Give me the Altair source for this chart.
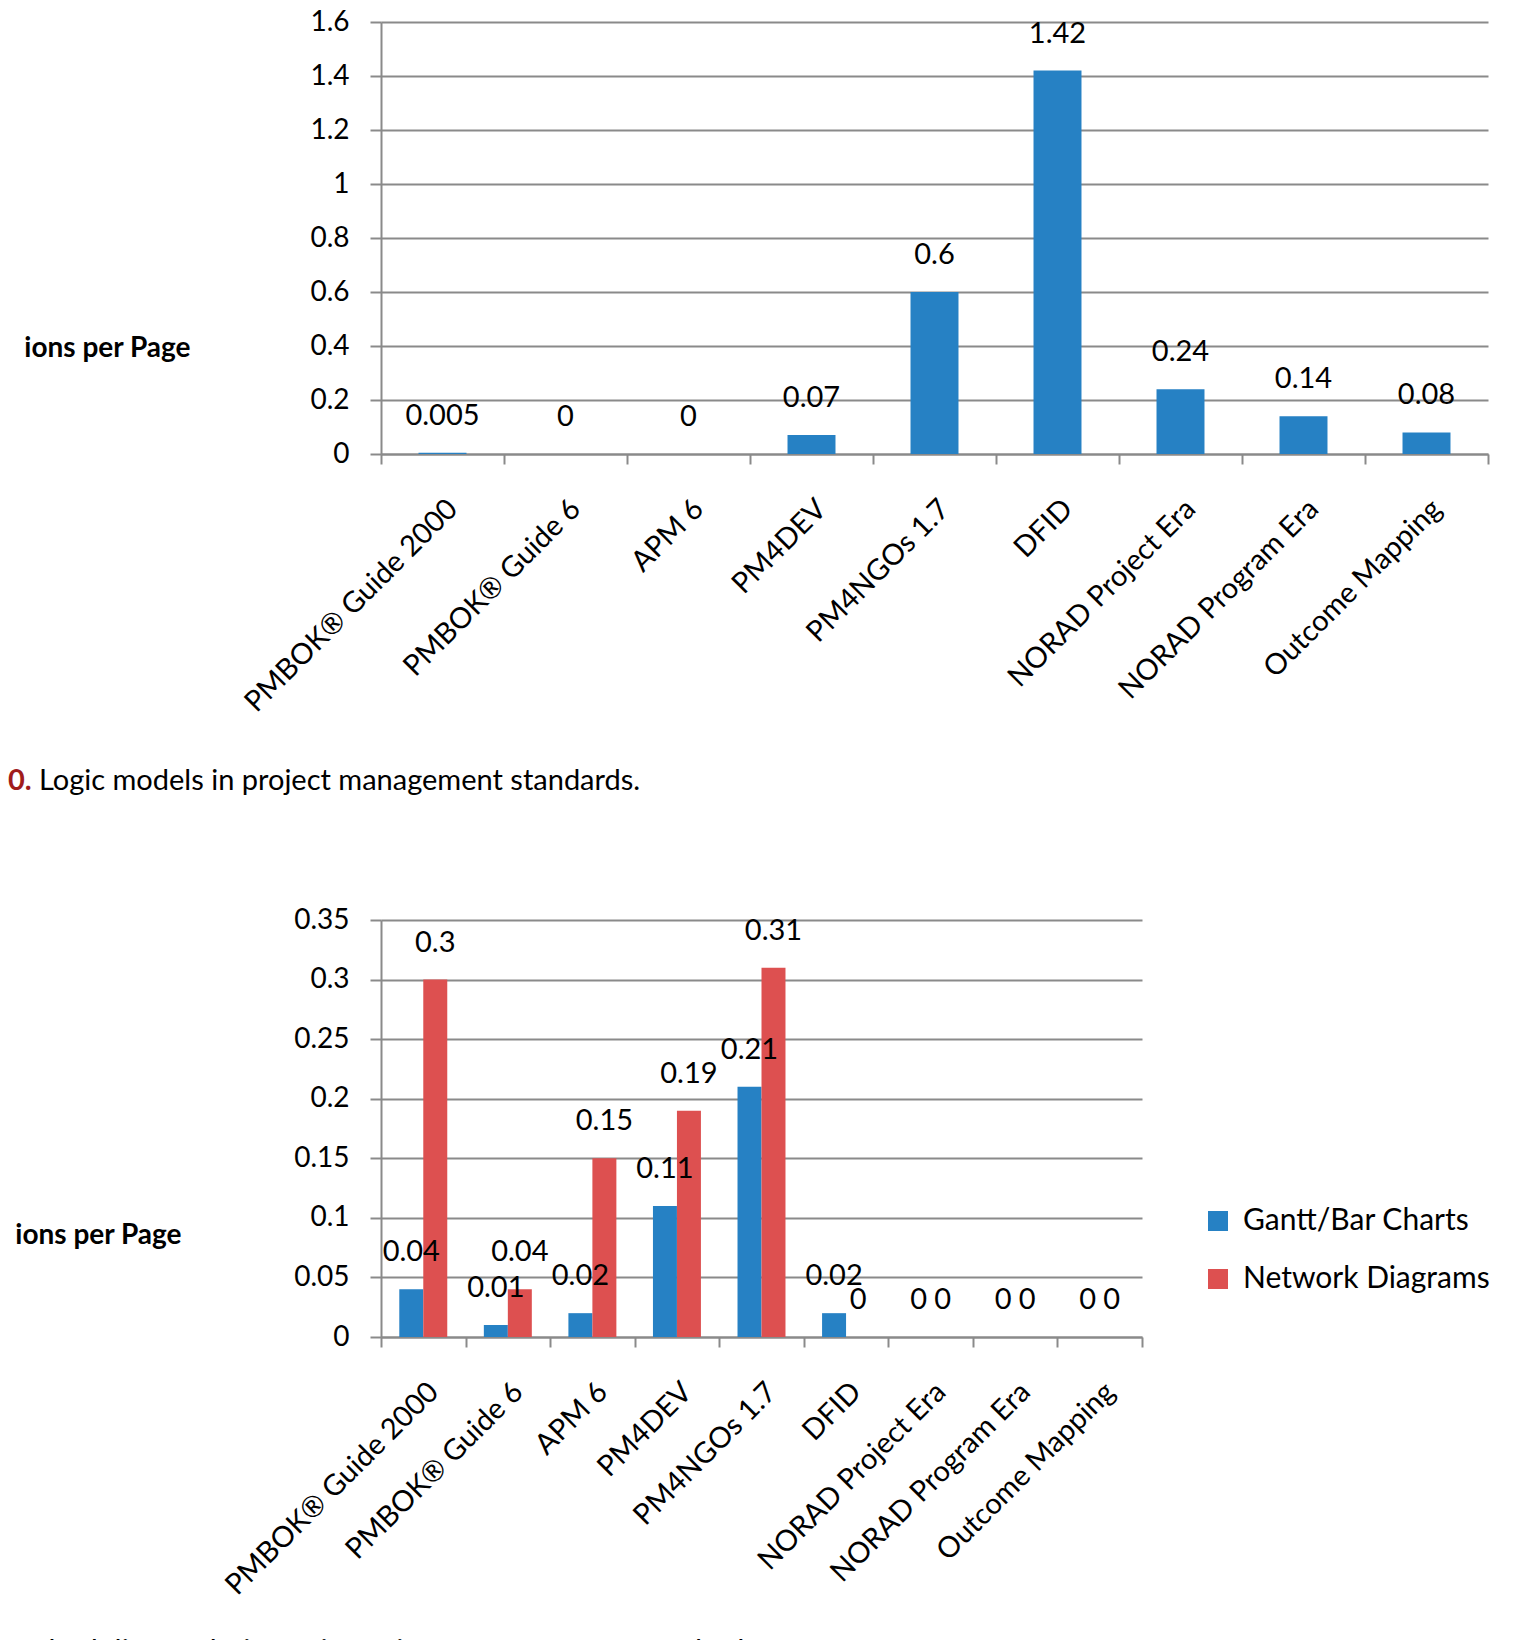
import altair as alt
import pandas as pd

categories = ["PMBOK® Guide 2000", "PMBOK® Guide 6", "APM 6", "PM4DEV", "PM4NGOs 1.7",
              "DFID", "NORAD Project Era", "NORAD Program Era", "Outcome Mapping"]
logic_values = [0.005, 0, 0, 0.07, 0.6, 1.42, 0.24, 0.14, 0.08]
gantt_values = [0.04, 0.01, 0.02, 0.11, 0.21, 0.02, 0, 0, 0]
network_values = [0.3, 0.04, 0.15, 0.19, 0.31, 0, 0, 0, 0]
series_names = ["Gantt/Bar Charts", "Network Diagrams"]
series_colors = ["#2681C4", "#DD5050"]
top_ticks = [0, 0.2, 0.4, 0.6, 0.8, 1, 1.2, 1.4, 1.6]
bottom_ticks = [0, 0.05, 0.1, 0.15, 0.2, 0.25, 0.3, 0.35]
y_title = "ions per Page"
caption_num = ["0."]
caption_top = ["Logic models in project management standards."]
caption_bottom = ["Scheduling techniques in project management standards."]

FONT = "Lato"
GRAY = "#8a8a8a"
BLUE = series_colors[0]
LABEL_SIZE = 29


def x_axis():
    return alt.Axis(title=None, labelAngle=-45, labelFont=FONT, labelFontSize=29,
                    labelColor="black", labelLimit=500, labelPadding=30,
                    tickBand="extent", tickSize=10, tickColor=GRAY, tickWidth=2,
                    domainColor=GRAY, domainWidth=2, grid=False)


def y_axis(vals, tx, ty):
    return alt.Axis(values=vals, format="~g", title=y_title, titleAngle=0,
                    titleAlign="right", titleBaseline="middle", titleX=tx, titleY=ty,
                    titleFont=FONT, titleFontSize=28, titleFontWeight="bold",
                    titleColor="black", labelFont=FONT, labelFontSize=28,
                    labelColor="black", labelPadding=21, tickSize=11, tickColor=GRAY,
                    tickWidth=2, domainColor=GRAY, domainWidth=2, gridColor=GRAY,
                    gridWidth=2)


# ---------- top chart ----------
df_top = pd.DataFrame({"cat": categories, "value": logic_values})
xs_top = alt.X("cat:N", sort=categories,
               scale=alt.Scale(paddingInner=0, paddingOuter=0), axis=x_axis())
ys_top = alt.Y("value:Q", scale=alt.Scale(domain=[0, 1.6], nice=False),
               axis=y_axis(top_ticks, -191, 326))

top_bars = alt.Chart(df_top).mark_bar(
    color=BLUE, width=alt.RelativeBandSize(0.39)).encode(x=xs_top, y=ys_top)
top_labels = alt.Chart(df_top).mark_text(font=FONT, fontSize=LABEL_SIZE, dy=-37,
                                         color="black").encode(
    x=alt.X("cat:N", sort=categories), y="value:Q",
    text=alt.Text("value:Q", format="~g"))
cap_num = alt.Chart(pd.DataFrame({"t": caption_num})).mark_text(
    font=FONT, fontSize=29, fontWeight="bold", color="#A01C1C", align="left",
    baseline="middle").encode(x=alt.value(-373), y=alt.value(759), text="t:N")
cap_top = alt.Chart(pd.DataFrame({"t": caption_top})).mark_text(
    font=FONT, fontSize=29, color="black", align="left",
    baseline="middle").encode(x=alt.value(-342), y=alt.value(759), text="t:N")

top = alt.layer(top_bars, top_labels, cap_num, cap_top).properties(width=1107, height=432)

# ---------- bottom chart ----------
df_bot = pd.DataFrame({
    "cat": categories * 2,
    "series": [series_names[0]] * len(categories) + [series_names[1]] * len(categories),
    "value": gantt_values + network_values,
})
xs_bot = alt.X("cat:N", sort=categories,
               scale=alt.Scale(paddingInner=0, paddingOuter=0), axis=x_axis())
ys_bot = alt.Y("value:Q", scale=alt.Scale(domain=[0, 0.35], nice=False),
               axis=y_axis(bottom_ticks, -200, 315))
xoff = alt.XOffset("series:N", sort=series_names,
                   scale=alt.Scale(paddingInner=0, paddingOuter=0.7625))
color = alt.Color("series:N", sort=series_names,
                  scale=alt.Scale(domain=series_names, range=series_colors),
                  legend=alt.Legend(title=None, orient="none", legendX=822, legendY=286,
                                    symbolType="square", symbolSize=400,
                                    symbolStrokeWidth=0, labelFont=FONT,
                                    labelFontSize=30, labelColor="black",
                                    labelLimit=400, labelOffset=10, rowPadding=28,
                                    padding=0))

bot_bars = alt.Chart(df_bot).mark_bar().encode(x=xs_bot, y=ys_bot, xOffset=xoff, color=color)
bot_labels = alt.Chart(df_bot).mark_text(font=FONT, fontSize=LABEL_SIZE, dy=-37,
                                         color="black").encode(
    x=alt.X("cat:N", sort=categories), y="value:Q", xOffset=xoff,
    text=alt.Text("value:Q", format="~g"))
cap_bot = alt.Chart(pd.DataFrame({"t": caption_bottom})).mark_text(
    font=FONT, fontSize=30, color="black", align="left",
    baseline="alphabetic").encode(x=alt.value(-363), y=alt.value(742), text="t:N")

bottom = alt.layer(bot_bars, bot_labels, cap_bot).properties(width=761, height=417)

chart = alt.vconcat(top, bottom, spacing=110).resolve_scale(
    x="independent", y="independent", color="independent", xOffset="independent"
).properties(padding=0).configure_view(stroke=None)

chart.save("out.html", embed_options={"renderer": "svg", "actions": False})
